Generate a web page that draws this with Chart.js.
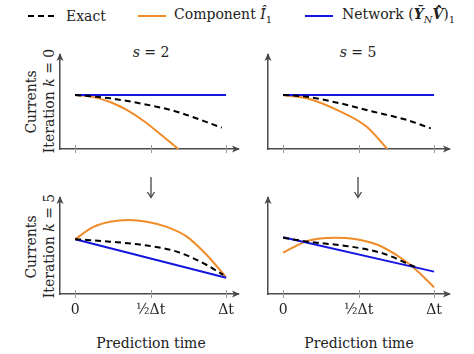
<!DOCTYPE html>
<html><head><meta charset="utf-8">
<script src="https://cdn.jsdelivr.net/npm/chart.js@4.4.1/dist/chart.umd.min.js"></script>
<style>
body{margin:0;background:#fff;}
#wrap{position:relative;width:474px;height:354px;font-family:"DejaVu Serif","Liberation Serif",serif;color:#222;overflow:hidden;}
canvas{position:absolute;}
.ctr{position:absolute;transform:translate(-50%,-50%);white-space:nowrap;font-size:14px;line-height:1;}
.rot{position:absolute;transform:translate(-50%,-50%) rotate(-90deg);white-space:nowrap;font-size:14px;line-height:1;}
.lg{position:absolute;top:16px;transform:translateY(-50%);white-space:nowrap;font-size:14px;line-height:1;}
svg{position:absolute;}
.bi{font-weight:bold;font-style:italic;}
</style></head>
<body><div id="wrap">
<svg style="left:0;top:0" width="474" height="354">
  <line x1="28" y1="16" x2="58" y2="16" stroke="#000" stroke-width="2" stroke-dasharray="6,4"/>
  <line x1="138" y1="16" x2="166" y2="16" stroke="#f08c28" stroke-width="2"/>
  <line x1="305" y1="16" x2="333" y2="16" stroke="#1515e0" stroke-width="2"/>
  <g stroke="#444" stroke-width="1.3" fill="none">
    <line x1="151" y1="177" x2="151" y2="197"/><polyline points="147.5,192 151,197.5 154.5,192"/>
    <line x1="358" y1="177" x2="358" y2="197"/><polyline points="354.5,192 358,197.5 361.5,192"/>
  </g>
</svg>
<div class="lg" style="left:66px">Exact</div>
<div class="lg" style="left:174px">Component <i>Î̂</i><sub style="font-size:10px">1</sub></div>
<div class="lg" style="left:342px">Network (<span class="bi">Ȳ</span><sub style="font-size:10px"><i>N</i></sub><span class="bi">V̂̂</span>)<sub style="font-size:10px">1</sub></div>

<div class="ctr" style="left:151px;top:52px"><i>s</i> = 2</div>
<div class="ctr" style="left:358px;top:52px"><i>s</i> = 5</div>

<div class="rot" style="left:31px;top:102px">Currents</div>
<div class="rot" style="left:49px;top:101px">Iteration <i>k</i> = 0</div>
<div class="rot" style="left:31px;top:247px">Currents</div>
<div class="rot" style="left:49px;top:246px">Iteration <i>k</i> = 5</div>

<div class="ctr" style="left:151px;top:343px">Prediction time</div>
<div class="ctr" style="left:359px;top:343px">Prediction time</div>

<canvas id="c1"></canvas><canvas id="c2"></canvas><canvas id="c3"></canvas><canvas id="c4"></canvas>
</div>
<script>
// ---- data (x = fraction of Δt, y = current, arbitrary units) ----
const tickValues = [0, 0.5, 1];
const tickLabels = ['0', '½Δt', 'Δt'];

// Iteration k = 0, s = 2
const exactK0S2X = [0, 0.10, 0.232, 0.452, 0.673, 0.971];
const exactK0S2Y = [5.74, 5.62, 5.39, 4.79, 3.97, 2.27];
const compK0S2X = [0, 0.121, 0.232, 0.342, 0.452, 0.563, 0.684];
const compK0S2Y = [5.74, 5.52, 5.0, 4.15, 3.0, 1.6, 0];
const netK0S2X = [0, 1];
const netK0S2Y = [5.74, 5.74];

// Iteration k = 0, s = 5
const exactK0S5X = [0, 0.10, 0.157, 0.377, 0.598, 0.819, 0.978];
const exactK0S5Y = [5.74, 5.65, 5.56, 4.86, 3.97, 3.09, 2.2];
const compK0S5X = [0, 0.157, 0.377, 0.554, 0.69];
const compK0S5Y = [5.74, 5.39, 4.0, 2.37, 0];
const netK0S5X = [0, 1];
const netK0S5Y = [5.74, 5.74];

// Iteration k = 5, s = 2
const exactK5S2X = [0, 0.077, 0.232, 0.452, 0.673, 0.872, 0.982];
const exactK5S2Y = [5.70, 5.63, 5.45, 5.10, 4.41, 3.02, 1.98];
const compK5S2X = [0, 0.121, 0.232, 0.353, 0.475, 0.607, 0.740, 0.872, 1];
const compK5S2Y = [5.70, 6.99, 7.53, 7.71, 7.53, 6.99, 5.98, 4.06, 1.74];
const netK5S2X = [0, 1];
const netK5S2Y = [5.70, 1.70];

// Iteration k = 5, s = 5
const exactK5S5X = [0, 0.166, 0.452, 0.673, 0.871, 0.9];
const exactK5S5Y = [5.85, 5.45, 4.93, 4.17, 2.85, 2.7];
const compK5S5X = [0, 0.077, 0.166, 0.342, 0.475, 0.629, 0.783, 0.894, 1];
const compK5S5Y = [4.31, 4.93, 5.56, 5.87, 5.73, 5.10, 3.72, 2.33, 0.69];
const netK5S5X = [0, 1];
const netK5S5Y = [5.91, 2.33];

// ---- drawing ----
const ORANGE = '#f08c28', BLUE = '#1515e0', AXIS = '#4a4a4a';
const FONT = '"DejaVu Serif", "Liberation Serif", serif';
const pts = (xs, ys) => xs.map((x, i) => ({x, y: ys[i]}));

const axisDeco = {
  id: 'axisDeco',
  afterDraw(chart) {
    const {ctx, chartArea: a, scales: {x}} = chart;
    ctx.save();
    ctx.strokeStyle = '#9a9a9a'; ctx.lineWidth = 1;
    x.ticks.forEach(t => {
      const px = Math.round(x.getPixelForValue(t.value)) + 0.5;
      ctx.beginPath(); ctx.moveTo(px, a.bottom - 4); ctx.lineTo(px, a.bottom + 4); ctx.stroke();
    });
    ctx.fillStyle = AXIS;
    ctx.beginPath();
    ctx.moveTo(a.left, a.top - 2); ctx.lineTo(a.left - 3.5, a.top + 6); ctx.lineTo(a.left, a.top + 4); ctx.lineTo(a.left + 3.5, a.top + 6);
    ctx.closePath(); ctx.fill();
    ctx.beginPath();
    ctx.moveTo(a.right + 2, a.bottom); ctx.lineTo(a.right - 6, a.bottom - 3.5); ctx.lineTo(a.right - 4, a.bottom); ctx.lineTo(a.right - 6, a.bottom + 3.5);
    ctx.closePath(); ctx.fill();
    ctx.restore();
  }
};

function panel(id, area, showLabels, sets) {
  const padL = 12, padT = 6, padR = 12, hb = showLabels ? 36 : 8;
  const cv = document.getElementById(id);
  const W = area.right - area.left + padL + padR;
  const H = area.bottom - area.top + padT + hb;
  cv.style.left = (area.left - padL) + 'px';
  cv.style.top = (area.top - padT) + 'px';
  cv.style.width = W + 'px'; cv.style.height = H + 'px';
  cv.width = W; cv.height = H;
  const xmax = (area.right - area.left) / 151 - 0.1;
  new Chart(cv, {
    type: 'line',
    data: {
      datasets: [
        {label: 'Exact', data: pts(sets.exact[0], sets.exact[1]), borderColor: '#000', borderWidth: 2, borderDash: [6, 4], cubicInterpolationMode: 'monotone', pointRadius: 0, order: 1},
        {label: 'Component', data: pts(sets.comp[0], sets.comp[1]), borderColor: ORANGE, borderWidth: 2, cubicInterpolationMode: 'monotone', pointRadius: 0, order: 3},
        {label: 'Network', data: pts(sets.net[0], sets.net[1]), borderColor: BLUE, borderWidth: 2, tension: 0, pointRadius: 0, order: 2}
      ]
    },
    options: {
      responsive: false, animation: false, devicePixelRatio: 1,
      layout: {padding: {left: padL, top: padT, right: padR, bottom: 0}},
      plugins: {legend: {display: false}, tooltip: {enabled: false}},
      elements: {line: {clip: false}},
      scales: {
        x: {
          type: 'linear', min: -0.1, max: xmax,
          afterBuildTicks: s => { s.ticks = tickValues.map(v => ({value: v})); },
          afterFit: s => { s.height = hb; },
          grid: {display: false, drawTicks: false},
          border: {display: true, color: AXIS, width: 1.5},
          ticks: {display: showLabels, padding: 8, color: '#222', font: {family: FONT, size: 14},
                  callback: (v, i) => tickLabels[i], maxRotation: 0, autoSkip: false}
        },
        y: {
          type: 'linear', min: 0, max: 10,
          afterFit: s => { s.width = 0; },
          grid: {display: false, drawTicks: false},
          border: {display: true, color: AXIS, width: 1.5},
          ticks: {display: false}
        }
      }
    },
    plugins: [axisDeco]
  });
}

panel('c1', {left: 60, top: 55, right: 238, bottom: 149}, false,
  {exact: [exactK0S2X, exactK0S2Y], comp: [compK0S2X, compK0S2Y], net: [netK0S2X, netK0S2Y]});
panel('c2', {left: 268, top: 55, right: 449, bottom: 149}, false,
  {exact: [exactK0S5X, exactK0S5Y], comp: [compK0S5X, compK0S5Y], net: [netK0S5X, netK0S5Y]});
panel('c3', {left: 60, top: 198, right: 238, bottom: 294}, true,
  {exact: [exactK5S2X, exactK5S2Y], comp: [compK5S2X, compK5S2Y], net: [netK5S2X, netK5S2Y]});
panel('c4', {left: 268, top: 198, right: 449, bottom: 294}, true,
  {exact: [exactK5S5X, exactK5S5Y], comp: [compK5S5X, compK5S5Y], net: [netK5S5X, netK5S5Y]});
</script>
</body></html>
